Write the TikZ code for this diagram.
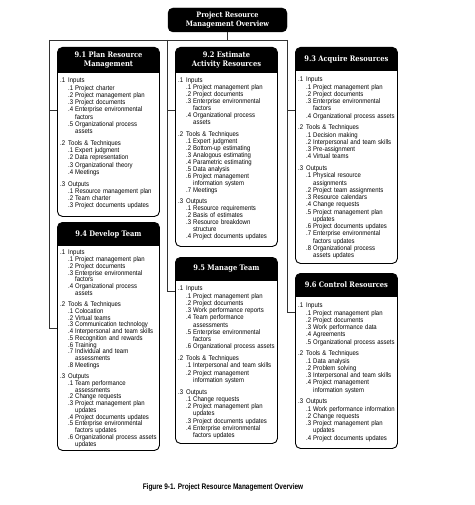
\documentclass[tikz,border=0pt]{standalone}
\usepackage{fontspec}
\setmainfont{Liberation Sans}[FakeStretch=0.88]
\newfontfamily\hdfont{DejaVu Serif}[FakeStretch=0.88]
\newfontfamily\capfont{Liberation Sans}[FakeStretch=0.8]
\usetikzlibrary{positioning}
\tikzset{hd/.store in=\hdh, hd=24pt,
  blk/.style={draw,fill=black,rounded corners=5pt,text=white,align=center,inner sep=0pt,minimum width=119pt,minimum height=24pt,font=\hdfont\bfseries\fontsize{7.4}{9.2}\selectfont},
  pbox/.style={draw,line width=0.9pt,rounded corners=5pt,anchor=north west,minimum width=102pt,inner sep=0pt,
    path picture={\fill[sharp corners] (path picture bounding box.north west) rectangle ([yshift=-\hdh]path picture bounding box.north east);}},
  ttl/.style={text=white,align=center,inner sep=0pt,font=\hdfont\bfseries\fontsize{7.6}{9.6}\selectfont},
  body/.style={anchor=north west,inner sep=0pt,text width=100pt,align=left,font=\fontsize{6.8}{#1}\selectfont},
  body/.default=7.25,
  wire/.style={line width=0.8pt,draw=black!80}}
\newcommand{\grp}[2]{\noindent\makebox[8pt][l]{#1}#2\par}
\newcommand{\itm}[2]{\noindent\hspace*{8pt}\makebox[7pt][l]{#1}#2\par}
\newcommand{\cnt}[1]{\noindent\hspace*{15pt}#1\par}
\newcommand{\gap}{\vskip 4.5pt}
\begin{document}
\begin{tikzpicture}[x=1pt,y=-1pt]
  \useasboundingbox (0,0) rectangle (474,505);
  \node[blk] (top) at (227.5,20) {Project Resource\\Management Overview};

  \node[pbox,hd=26pt,minimum height=169pt] (p1) at (57,47) {};
  \node[pbox,hd=26pt,minimum height=199pt] (p2) at (175,47) {};
  \node[pbox,minimum height=216pt] (p3) at (295,47) {};
  \node[pbox,minimum height=228pt] (p4) at (57,222) {};
  \node[pbox,minimum height=186pt] (p5) at (175,257) {};
  \node[pbox,minimum height=175pt] (p6) at (295,273) {};

  \node[ttl] (p1t) at ([yshift=-13pt]p1.north) {9.1 Plan Resource\\Management};
  \node[ttl] (p2t) at ([yshift=-13pt]p2.north) {9.2 Estimate\\Activity Resources};
  \node[ttl] (p3t) at ([yshift=-12pt]p3.north) {9.3 Acquire Resources};
  \node[ttl] (p4t) at ([yshift=-12pt]p4.north) {9.4 Develop Team};
  \node[ttl] (p5t) at ([yshift=-12pt]p5.north) {9.5 Manage Team};
  \node[ttl] (p6t) at ([yshift=-12pt]p6.north) {9.6 Control Resources};

  % inputs, tools & techniques, outputs
  \node[body] (p1b) at ([xshift=3pt,yshift=-31pt]p1.north west) {%
    \grp{.1}{Inputs}
    \itm{.1}{Project charter}
    \itm{.2}{Project management plan}
    \itm{.3}{Project documents}
    \itm{.4}{Enterprise environmental}
    \cnt{factors}
    \itm{.5}{Organizational process}
    \cnt{assets}
    \gap
    \grp{.2}{Tools \& Techniques}
    \itm{.1}{Expert judgment}
    \itm{.2}{Data representation}
    \itm{.3}{Organizational theory}
    \itm{.4}{Meetings}
    \gap
    \grp{.3}{Outputs}
    \itm{.1}{Resource management plan}
    \itm{.2}{Team charter}
    \itm{.3}{Project documents updates}};
  \node[body=7] (p2b) at ([xshift=3pt,yshift=-31pt]p2.north west) {%
    \grp{.1}{Inputs}
    \itm{.1}{Project management plan}
    \itm{.2}{Project documents}
    \itm{.3}{Enterprise environmental}
    \cnt{factors}
    \itm{.4}{Organizational process}
    \cnt{assets}
    \gap
    \grp{.2}{Tools \& Techniques}
    \itm{.1}{Expert judgment}
    \itm{.2}{Bottom-up estimating}
    \itm{.3}{Analogous estimating}
    \itm{.4}{Parametric estimating}
    \itm{.5}{Data analysis}
    \itm{.6}{Project management}
    \cnt{information system}
    \itm{.7}{Meetings}
    \gap
    \grp{.3}{Outputs}
    \itm{.1}{Resource requirements}
    \itm{.2}{Basis of estimates}
    \itm{.3}{Resource breakdown}
    \cnt{structure}
    \itm{.4}{Project documents updates}};
  \node[body] (p3b) at ([xshift=3pt,yshift=-30pt]p3.north west) {%
    \grp{.1}{Inputs}
    \itm{.1}{Project management plan}
    \itm{.2}{Project documents}
    \itm{.3}{Enterprise environmental}
    \cnt{factors}
    \itm{.4}{Organizational process assets}
    \gap
    \grp{.2}{Tools \& Techniques}
    \itm{.1}{Decision making}
    \itm{.2}{Interpersonal and team skills}
    \itm{.3}{Pre-assignment}
    \itm{.4}{Virtual teams}
    \gap
    \grp{.3}{Outputs}
    \itm{.1}{Physical resource}
    \cnt{assignments}
    \itm{.2}{Project team assignments}
    \itm{.3}{Resource calendars}
    \itm{.4}{Change requests}
    \itm{.5}{Project management plan}
    \cnt{updates}
    \itm{.6}{Project documents updates}
    \itm{.7}{Enterprise environmental}
    \cnt{factors updates}
    \itm{.8}{Organizational process}
    \cnt{assets updates}};
  \node[body=6.75] (p4b) at ([xshift=3pt,yshift=-28pt]p4.north west) {%
    \grp{.1}{Inputs}
    \itm{.1}{Project management plan}
    \itm{.2}{Project documents}
    \itm{.3}{Enterprise environmental}
    \cnt{factors}
    \itm{.4}{Organizational process}
    \cnt{assets}
    \gap
    \grp{.2}{Tools \& Techniques}
    \itm{.1}{Colocation}
    \itm{.2}{Virtual teams}
    \itm{.3}{Communication technology}
    \itm{.4}{Interpersonal and team skills}
    \itm{.5}{Recognition and rewards}
    \itm{.6}{Training}
    \itm{.7}{Individual and team}
    \cnt{assessments}
    \itm{.8}{Meetings}
    \gap
    \grp{.3}{Outputs}
    \itm{.1}{Team performance}
    \cnt{assessments}
    \itm{.2}{Change requests}
    \itm{.3}{Project management plan}
    \cnt{updates}
    \itm{.4}{Project documents updates}
    \itm{.5}{Enterprise environmental}
    \cnt{factors updates}
    \itm{.6}{Organizational process assets}
    \cnt{updates}};
  \node[body] (p5b) at ([xshift=3pt,yshift=-29pt]p5.north west) {%
    \grp{.1}{Inputs}
    \itm{.1}{Project management plan}
    \itm{.2}{Project documents}
    \itm{.3}{Work performance reports}
    \itm{.4}{Team performance}
    \cnt{assessments}
    \itm{.5}{Enterprise environmental}
    \cnt{factors}
    \itm{.6}{Organizational process assets}
    \gap
    \grp{.2}{Tools \& Techniques}
    \itm{.1}{Interpersonal and team skills}
    \itm{.2}{Project management}
    \cnt{information system}
    \gap
    \grp{.3}{Outputs}
    \itm{.1}{Change requests}
    \itm{.2}{Project management plan}
    \cnt{updates}
    \itm{.3}{Project documents updates}
    \itm{.4}{Enterprise environmental}
    \cnt{factors updates}};
  \node[body] (p6b) at ([xshift=3pt,yshift=-30pt]p6.north west) {%
    \grp{.1}{Inputs}
    \itm{.1}{Project management plan}
    \itm{.2}{Project documents}
    \itm{.3}{Work performance data}
    \itm{.4}{Agreements}
    \itm{.5}{Organizational process assets}
    \gap
    \grp{.2}{Tools \& Techniques}
    \itm{.1}{Data analysis}
    \itm{.2}{Problem solving}
    \itm{.3}{Interpersonal and team skills}
    \itm{.4}{Project management}
    \cnt{information system}
    \gap
    \grp{.3}{Outputs}
    \itm{.1}{Work performance information}
    \itm{.2}{Change requests}
    \itm{.3}{Project management plan}
    \cnt{updates}
    \itm{.4}{Project documents updates}};

  % tree lines
  \coordinate (bl) at (49,40);
  \coordinate (bm) at (167,40);
  \coordinate (br) at (287,40);
  \coordinate (s1) at ([yshift=-63pt]p1.north west);
  \coordinate (s2) at ([yshift=-63pt]p2.north west);
  \coordinate (s3) at ([yshift=-63pt]p3.north west);
  \coordinate (s4) at ([yshift=-106pt]p4.north west);
  \coordinate (s5) at ([yshift=-34pt]p5.north west);
  \coordinate (s6) at ([yshift=-39pt]p6.north west);
  \draw[wire] (top.south) -- (top.south |- bm);
  \draw[wire] (bl) -- (br);
  \draw[wire] (bl) |- (s4);
  \draw[wire] (s1) -| (bl);
  \draw[wire] (bm) |- (s5);
  \draw[wire] (s2) -| (bm);
  \draw[wire] (br) |- (s6);
  \draw[wire] (s3) -| (br);

  \node[font=\capfont\bfseries\fontsize{8.1}{9}\selectfont] (cap) at (223,487) {Figure 9-1. Project Resource Management Overview};
\end{tikzpicture}
\end{document}
